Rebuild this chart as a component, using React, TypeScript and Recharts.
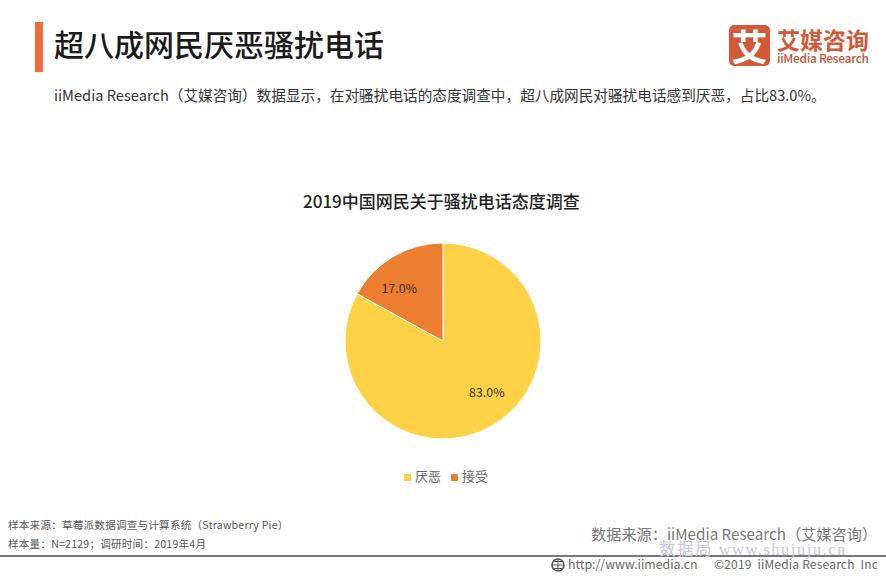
import { PieChart, Pie, Cell, Legend } from "recharts";

const CATEGORIES = ["厌恶", "接受"];
const SHARES = [83.0, 17.0];
const COLORS = ["#FFD147", "#ED7D31"];

const chartData = CATEGORIES.map((name, i) => ({ name, value: SHARES[i] }));

const FONT = '"Noto Sans CJK SC", "Noto Sans", sans-serif';
const RADIAN = Math.PI / 180;

const renderLabel = ({ cx, cy, midAngle, value }: any) => {
  // labels in the picture sit a little behind the slice's middle
  const angle = (midAngle + 9.5) * RADIAN;
  const x = cx + 68 * Math.cos(angle);
  const y = cy - 68 * Math.sin(angle);
  return (
    <text x={x} y={y - 1} textAnchor="middle" dominantBaseline="central" fontSize={12.4} fill="#333" fontFamily={FONT}>
      {value.toFixed(1)}%
    </text>
  );
};

const put = (left: number, top: number, fontSize: number, color: string, extra: any = {}) => ({
  position: "absolute" as const,
  left,
  top,
  fontSize,
  color,
  lineHeight: 1,
  whiteSpace: "nowrap" as const,
  fontFamily: FONT,
  ...extra,
});

export default function App() {
  return (
    <div style={{ position: "absolute", left: 0, top: 0, width: 886, height: 576, overflow: "hidden", background: "#fff" }}>
      <div style={{ position: "absolute", left: 35, top: 22, width: 8, height: 50, background: "#F26B3A" }} />
      <div style={put(54, 28, 30, "#1a1a1a", { fontWeight: 500 })}>超八成网民厌恶骚扰电话</div>
      <div style={put(54, 88, 14.65, "#333")}>
        iiMedia Research（艾媒咨询）数据显示，在对骚扰电话的态度调查中，超八成网民对骚扰电话感到厌恶，占比83.0%。
      </div>

      <div style={{ position: "absolute", left: 729, top: 25, width: 41, height: 41, borderRadius: 5, background: "#D2593A", color: "#fff", textAlign: "center", fontSize: 36, lineHeight: "40px", fontWeight: 700, fontFamily: FONT }}>
        艾
      </div>
      <div style={put(777, 28, 23, "#D2593A", { fontWeight: 700 })}>艾媒咨询</div>
      <div style={put(777, 52, 12, "#C0573C", { fontWeight: 500, letterSpacing: -0.3 })}>iiMedia Research</div>

      <div style={put(303, 192, 17, "#222", { fontWeight: 500 })}>2019中国网民关于骚扰电话态度调查</div>

      <div style={{ position: "absolute", left: 0, top: 0 }}>
        <PieChart width={886} height={576} margin={{ top: 0, right: 0, bottom: 0, left: 0 }}>
          <Pie
            data={chartData}
            dataKey="value"
            nameKey="name"
            cx={443}
            cy={341}
            outerRadius={98}
            startAngle={90}
            endAngle={-270}
            stroke="#fff"
            strokeWidth={1}
            label={renderLabel}
            labelLine={false}
            isAnimationActive={false}
          >
            {chartData.map((d, i) => (
              <Cell key={d.name} fill={COLORS[i]} />
            ))}
          </Pie>
          <Legend
            layout="horizontal"
            verticalAlign="bottom"
            align="left"
            iconType="square"
            iconSize={7}
            wrapperStyle={{ left: 404, top: 466, bottom: "auto", width: 100, fontSize: 13, fontFamily: FONT }}
            formatter={(v: string) => <span style={{ color: "#666" }}>{v}</span>}
          />
        </PieChart>
      </div>

      <div style={put(8, 520, 10.6, "#555", { letterSpacing: 0.2 })}>样本来源：草莓派数据调查与计算系统（Strawberry Pie）</div>
      <div style={put(8, 539, 10.6, "#555", { letterSpacing: 0.2 })}>样本量：N=2129；调研时间：2019年4月</div>
      <div style={put(591, 526, 15.2, "#777")}>数据来源：iiMedia Research（艾媒咨询）</div>

      <div style={{ position: "absolute", left: 0, top: 555, width: 886, height: 2, background: "#777" }} />
      <div style={put(659, 542, 16.5, "#C9C6EE", { fontFamily: '"Liberation Serif", "Noto Sans CJK SC", serif', letterSpacing: 1.5 })}>
        数据局 www.shujuju.cn
      </div>

      <svg width={14} height={14} style={{ position: "absolute", left: 551, top: 558 }}>
        <circle cx={7} cy={7} r={6} fill="none" stroke="#555" strokeWidth={1.6} />
        <path d="M1 7H13M7 1V13M3 3.5H11M3 10.5H11" stroke="#555" strokeWidth={1} fill="none" />
      </svg>
      <div style={put(568, 558, 12.3, "#666")}>http://www.iimedia.cn</div>
      <div style={put(714, 558, 12, "#666", { letterSpacing: 0.2 })}>©2019&nbsp;&nbsp;iiMedia Research&nbsp;&nbsp;Inc</div>
    </div>
  );
}
